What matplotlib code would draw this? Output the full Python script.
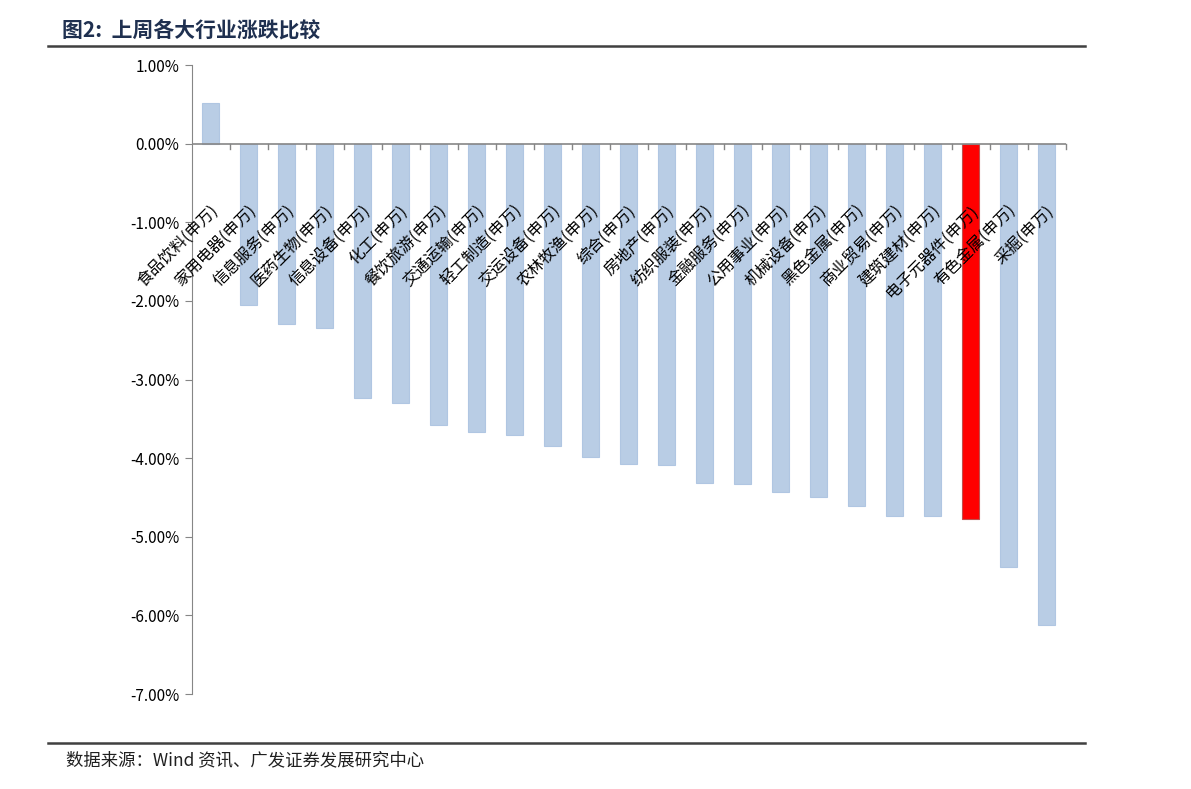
import numpy as np
import matplotlib.pyplot as plt
from matplotlib.ticker import FuncFormatter

plt.rcParams['font.family'] = ['Noto Sans CJK SC', 'DejaVu Sans']

# 行业名称与上周涨跌幅 (%)
industries = ["食品饮料", "家用电器", "信息服务", "医药生物", "信息设备", "化工",
              "餐饮旅游", "交通运输", "轻工制造", "交运设备", "农林牧渔", "综合",
              "房地产", "纺织服装", "金融服务", "公用事业", "机械设备", "黑色金属",
              "商业贸易", "建筑建材", "电子元器件", "有色金属", "采掘"]
changes = [0.52, -2.05, -2.30, -2.34, -3.24, -3.30,
           -3.58, -3.67, -3.71, -3.84, -3.99, -4.07,
           -4.09, -4.31, -4.33, -4.43, -4.50, -4.61,
           -4.74, -4.74, -4.77, -5.39, -6.12]
# 原图中标红的柱子（第 21 根）
highlight = "电子元器件"

labels = [f"{name}(申万)" for name in industries]
colors = ["#FF0000" if n == highlight else "#B9CDE5" for n in industries]
edges = ["#C0504D" if n == highlight else "#B0C6E2" for n in industries]

fig = plt.figure(figsize=(11.91, 7.89), dpi=100)
ax = fig.add_axes([0.161, 0.1204, 0.734, 0.7972])

x = np.arange(len(industries))
ax.bar(x, changes, width=0.45, color=colors, edgecolor=edges, linewidth=0.8, zorder=2)

ax.set_xlim(-0.5, len(industries) - 0.5)
ax.set_ylim(-7, 1)
ax.set_yticks(np.arange(-7, 1.01, 1))
ax.yaxis.set_major_formatter(FuncFormatter(lambda v, p: f"{v:.2f}%"))
ax.tick_params(axis='y', direction='out', length=5, color='#868686', labelsize=11, pad=4)

# 坐标轴：只保留左侧轴线和 0 线
for s in ["top", "right", "bottom"]:
    ax.spines[s].set_visible(False)
ax.spines["left"].set_color('#868686')
ax.axhline(0, color='#868686', linewidth=1.2, zorder=3)
ax.set_xticks([])
for b in np.arange(0.5, len(industries), 1.0):
    ax.plot([b, b], [0, -0.07], color='#868686', linewidth=1.0, zorder=3, clip_on=False)

# 分类标签（斜 45 度，放在 0 线下方）
for i, lab in enumerate(labels):
    ax.text(i + 0.12, -0.82, lab, rotation=45, rotation_mode='anchor',
            ha='right', va='center', fontsize=11.5, color='black', zorder=4)

# 标题和来源
fig.text(0.052, 0.962, "图2:  上周各大行业涨跌比较", fontsize=15, fontweight='bold',
         color='#1F3050', ha='left', va='center')
fig.add_artist(plt.Line2D([0.040, 0.911], [0.942, 0.942], color='#404040', linewidth=1.8))
fig.add_artist(plt.Line2D([0.040, 0.911], [0.058, 0.058], color='#404040', linewidth=1.8))
fig.text(0.055, 0.037, "数据来源：Wind 资讯、广发证券发展研究中心", fontsize=12.5,
         color='#202020', ha='left', va='center')

fig.savefig("out.png", dpi=100)
